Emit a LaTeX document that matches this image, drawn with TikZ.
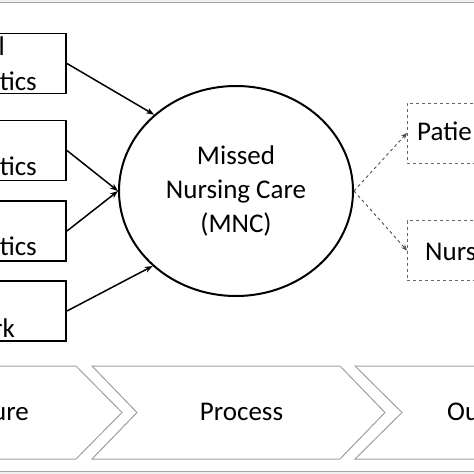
\documentclass[tikz,border=0pt]{standalone}
\usepackage{fontspec}
\setmainfont{Carlito}
\usetikzlibrary{shapes.geometric,arrows.meta}
\begin{document}
\begin{tikzpicture}
    [x=1pt,y=-1pt,
    every node/.style={font=\fontsize{27}{34}\selectfont, inner sep=0pt},
    inbox/.style={draw, line width=1.8pt, minimum width=150pt, minimum height=60pt, anchor=east},
    outbox/.style={draw, dashed, gray!80!black, line width=0.9pt, minimum width=120pt, minimum height=60pt, anchor=west},
    core/.style={draw, ellipse, line width=2pt, minimum width=234pt, minimum height=210pt, align=center},
    link/.style={-{Stealth[length=8pt,width=6pt]}, line width=1.5pt},
    dlink/.style={-{Stealth[length=6pt,width=5pt]}, dashed, gray!60!black, line width=0.9pt},
    chev/.style={draw, gray!75, line width=1pt}]
    \useasboundingbox (0,0) rectangle (474,474);
    \clip (0,0) rectangle (474,474);
    % frame of the outer figure
    \fill[gray!12] (0,0) rectangle (474,2);
    \fill[gray!12] (0,471) rectangle (474,474);
    \draw[gray!70, line width=0.9pt] (0,2.5) -- (474,2.5);
    \draw[gray!70, line width=0.9pt] (0,471) -- (474,471);
    % inputs
    \node[inbox] (indiv) at (67,63.5) {};
    \node[inbox] (nurse) at (67,150.5) {};
    \node[inbox] (unit) at (67,231) {};
    \node[inbox] (team) at (67,311) {};
    \node[anchor=base east] (indivA) at (5,55) {l};
    \node[anchor=base east] (indivB) at (37,90) {tics};
    \node[anchor=base east] (nurseB) at (37,175) {tics};
    \node[anchor=base east] (unitB) at (37,255) {tics};
    \node[anchor=base east] (teamB) at (15,337) {rk};
    % missed care
    \node[core] (mnc) at (236,191) {Missed\\Nursing Care\\(MNC)};
    % outcomes
    \node[outbox] (patient) at (407,133) {};
    \node[outbox] (nurseout) at (407,250.5) {};
    \node[anchor=base west] (patientT) at (417,140) {Patie};
    \node[anchor=base west] (nurseoutT) at (425,260) {Nurs};
    % arrows
    \draw[link] (indiv.east) -- (mnc.137);
    \draw[link] (nurse.east) -- (mnc.west);
    \draw[link] (unit.east) -- (mnc.west);
    \draw[link] (team.east) -- (mnc.222);
    \draw[dlink] (mnc.east) -- (patient.west);
    \draw[dlink] (mnc.east) -- (nurseout.west);
    % structure - process - outcome chevrons
    \draw[chev] (-20,366) -- (76,366) -- (122,412.5) -- (76,459) -- (-20,459);
    \draw[chev] (92,366) -- (340,366) -- (385,412.5) -- (340,459) -- (92,459) -- (137,412.5) -- cycle;
    \draw[chev] (500,366) -- (355,366) -- (402,412.5) -- (355,459) -- (500,459);
    \node[anchor=base east] (structT) at (29,420) {ure};
    \node[anchor=base] (processT) at (241.5,420) {Process};
    \node[anchor=base west] (outT) at (447,420) {Ou};
\end{tikzpicture}
\end{document}
